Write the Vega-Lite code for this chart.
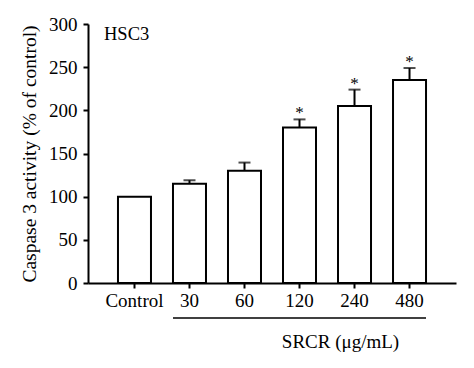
{
  "$schema": "https://vega.github.io/schema/vega-lite/v6.json",
  "width": 368,
  "height": 259,
  "autosize": {"type": "none"},
  "padding": {"left": 88, "top": 24, "right": 18, "bottom": 85},
  "background": "white",
  "config": {
    "view": {"stroke": null},
    "font": "Liberation Serif",
    "axis": {
      "domainColor": "black",
      "domainWidth": 2,
      "tickColor": "black",
      "tickWidth": 2,
      "tickSize": 5,
      "labelColor": "black",
      "titleColor": "black",
      "labelFont": "Liberation Serif",
      "titleFont": "Liberation Serif",
      "labelFontSize": 19,
      "titleFontSize": 19.5,
      "titleFontWeight": "normal",
      "grid": false
    }
  },
  "data": {
    "values": [
      {"group": "Control", "value": 100, "upper": null, "sig": ""},
      {"group": "30", "value": 115, "upper": 119, "sig": ""},
      {"group": "60", "value": 130, "upper": 139.5, "sig": ""},
      {"group": "120", "value": 180, "upper": 189.5, "sig": "*"},
      {"group": "240", "value": 205, "upper": 224, "sig": "*"},
      {"group": "480", "value": 235, "upper": 249, "sig": "*"}
    ]
  },
  "layer": [
    {
      "mark": {"type": "bar", "fill": "white", "stroke": "black", "strokeWidth": 2},
      "encoding": {
        "x": {
          "field": "group",
          "type": "nominal",
          "sort": ["Control", "30", "60", "120", "240", "480"],
          "scale": {"domain": ["Control", "30", "60", "120", "240", "480"], "paddingInner": 0.4, "paddingOuter": 0.545},
          "axis": {
            "labelAngle": 0,
            "labelPadding": 3,
            "title": "SRCR (μg/mL)",
            "titleFontSize": 19,
            "titleX": 252,
            "titleY": 58,
            "titleBaseline": "middle",
            "titleAnchor": "middle"
          }
        },
        "y": {
          "field": "value",
          "type": "quantitative",
          "scale": {"domain": [0, 300], "nice": false},
          "axis": {
            "values": [0, 50, 100, 150, 200, 250, 300],
            "labelPadding": 6,
            "title": "Caspase 3 activity (% of control)",
            "titlePadding": 9
          }
        }
      }
    },
    {
      "transform": [{"filter": "datum.upper != null"}],
      "mark": {"type": "rule", "color": "black", "strokeWidth": 2},
      "encoding": {
        "x": {"field": "group", "type": "nominal", "sort": ["Control", "30", "60", "120", "240", "480"]},
        "y": {"field": "value", "type": "quantitative"},
        "y2": {"field": "upper"}
      }
    },
    {
      "transform": [{"filter": "datum.upper != null"}],
      "mark": {"type": "tick", "color": "black", "size": 12, "thickness": 2},
      "encoding": {
        "x": {"field": "group", "type": "nominal", "sort": ["Control", "30", "60", "120", "240", "480"]},
        "y": {"field": "upper", "type": "quantitative"}
      }
    },
    {
      "transform": [{"filter": "datum.sig != ''"}],
      "mark": {"type": "text", "font": "Liberation Serif", "fontSize": 17, "fontWeight": "normal", "baseline": "alphabetic", "align": "center", "dy": -1, "color": "black"},
      "encoding": {
        "x": {"field": "group", "type": "nominal", "sort": ["Control", "30", "60", "120", "240", "480"]},
        "y": {"field": "upper", "type": "quantitative"},
        "text": {"field": "sig"}
      }
    },
    {
      "data": {"values": [{"start": "30", "end": "480", "level": -40.5}]},
      "mark": {"type": "rule", "color": "black", "strokeWidth": 1.5},
      "encoding": {
        "x": {"field": "start", "type": "nominal", "sort": ["Control", "30", "60", "120", "240", "480"], "bandPosition": 0},
        "x2": {"field": "end", "bandPosition": 1},
        "y": {"field": "level", "type": "quantitative"}
      }
    },
    {
      "data": {"values": [{"label": "HSC3", "anchor": "Control", "level": 300}]},
      "mark": {"type": "text", "font": "Liberation Serif", "fontSize": 18.5, "fontWeight": "normal", "baseline": "top", "align": "left", "dx": -14, "dy": 1, "color": "black"},
      "encoding": {
        "x": {"field": "anchor", "type": "nominal", "sort": ["Control", "30", "60", "120", "240", "480"], "bandPosition": 0},
        "y": {"field": "level", "type": "quantitative"},
        "text": {"field": "label"}
      }
    }
  ]
}
